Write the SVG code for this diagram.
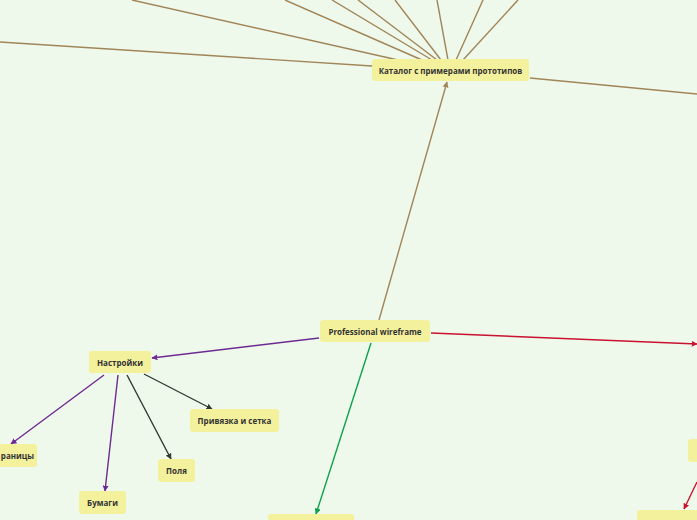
<svg xmlns="http://www.w3.org/2000/svg" width="697" height="520" viewBox="0 0 697 520">
<style>
.bg{fill:#eff9eb}
.node rect{fill:#f4f19d}
.node text{font-family:"Open Sans","Noto Sans",sans-serif;font-weight:bold;font-size:8px;fill:#333;text-anchor:middle;dominant-baseline:central}
.c{fill:none;stroke-width:1.4}
.br{stroke:#a08558}
.pu{stroke:#6c2a92}
.dk{stroke:#2f3a33}
.gr{stroke:#0ca24a}
.rd{stroke:#c8122f}
</style>
<defs>
<marker id="abr" viewBox="0 0 10 10" refX="9" refY="5" markerWidth="6" markerHeight="6" orient="auto" markerUnits="userSpaceOnUse"><path d="M0,0L10,5L0,10z" fill="#a08558"/></marker>
<marker id="apu" viewBox="0 0 10 10" refX="9" refY="5" markerWidth="6" markerHeight="6" orient="auto" markerUnits="userSpaceOnUse"><path d="M0,0L10,5L0,10z" fill="#6c2a92"/></marker>
<marker id="adk" viewBox="0 0 10 10" refX="9" refY="5" markerWidth="6" markerHeight="6" orient="auto" markerUnits="userSpaceOnUse"><path d="M0,0L10,5L0,10z" fill="#2f3a33"/></marker>
<marker id="agr" viewBox="0 0 10 10" refX="9" refY="5" markerWidth="6" markerHeight="6" orient="auto" markerUnits="userSpaceOnUse"><path d="M0,0L10,5L0,10z" fill="#0ca24a"/></marker>
<marker id="ard" viewBox="0 0 10 10" refX="9" refY="5" markerWidth="6" markerHeight="6" orient="auto" markerUnits="userSpaceOnUse"><path d="M0,0L10,5L0,10z" fill="#c8122f"/></marker>
</defs>
<rect class="bg" x="0" y="0" width="697" height="520"/>
<g id="connectors">
<path class="c br" d="M132,0L398,60"/>
<path class="c br" d="M285,0L422,60"/>
<path class="c br" d="M332,0L432,60"/>
<path class="c br" d="M358,0L437,60"/>
<path class="c br" d="M395,0L441,60"/>
<path class="c br" d="M437,0L448,60"/>
<path class="c br" d="M483,0L456,60"/>
<path class="c br" d="M518,0L463,60"/>
<path class="c br" d="M0,42L372,66"/>
<path class="c br" d="M530,78L697,94"/>
<path class="c br" d="M379,320L447,82" marker-end="url(#abr)"/>
<path class="c pu" d="M319,338L152,358" marker-end="url(#apu)"/>
<path class="c pu" d="M104,375L11,444" marker-end="url(#apu)"/>
<path class="c pu" d="M118,375L105,491" marker-end="url(#apu)"/>
<path class="c dk" d="M127,375L171,459" marker-end="url(#adk)"/>
<path class="c dk" d="M144,374L212,409" marker-end="url(#adk)"/>
<path class="c gr" d="M371,343L316,514" marker-end="url(#agr)"/>
<path class="c rd" d="M431,333L697,344" marker-end="url(#ard)"/>
<path class="c rd" d="M697,482L684,509" marker-end="url(#ard)"/>
</g>
<g id="catalog" class="node"><rect x="372" y="59" width="157" height="22" rx="3"/><text x="450.5" y="70.5">Каталог с примерами прототипов</text></g>
<g id="professional" class="node"><rect x="320" y="320" width="110" height="22" rx="3"/><text x="375" y="331">Professional wireframe</text></g>
<g id="nastroyki" class="node"><rect x="89" y="351" width="62" height="22" rx="3"/><text x="120" y="362">Настройки</text></g>
<g id="privyazka" class="node"><rect x="190" y="409" width="89" height="23" rx="3"/><text x="234.5" y="420.5">Привязка и сетка</text></g>
<g id="polya" class="node"><rect x="158" y="459" width="37" height="23" rx="3"/><text x="176.5" y="470.5">Поля</text></g>
<g id="bumagi" class="node"><rect x="79" y="491" width="47" height="23" rx="3"/><text x="102.5" y="502.5">Бумаги</text></g>
<g id="granitsy" class="node"><rect x="-30" y="444" width="67" height="23" rx="3"/><text x="17.5" y="455.5">раницы</text></g>
<g id="bottom-green" class="node"><rect x="268" y="514" width="86" height="22" rx="3"/></g>
<g id="right-node" class="node"><rect x="688" y="439" width="40" height="23" rx="3"/></g>
<g id="bottom-right" class="node"><rect x="637" y="510" width="90" height="22" rx="3"/></g>
</svg>
